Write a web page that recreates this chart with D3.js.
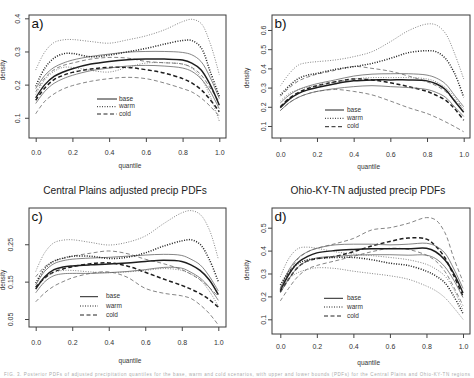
<!DOCTYPE html>
<html><head><meta charset="utf-8">
<script src="https://cdn.jsdelivr.net/npm/d3@7"></script>
<style>
body{margin:0;background:#fff;}
svg{display:block;font-family:"Liberation Sans",Arial,Helvetica,sans-serif;}
</style></head>
<body><svg id="c" width="474" height="378"></svg>
<script>
const quantiles = [0,0.05,0.1,0.15,0.2,0.3,0.4,0.5,0.6,0.7,0.8,0.85,0.9,0.95,1];
const xTicks = [0,0.2,0.4,0.6,0.8,1.0];
const titles = ["Central Plains adjusted precip PDFs","Ohio-KY-TN adjusted precip PDFs"];
const panelLabels = ["a)","b)","c)","d)"];
const legendLabels = ["base","warm","cold"];
const captionText = "FIG. 3. Posterior PDFs of adjusted precipitation quantiles for the base, warm and cold scenarios, with upper and lower bounds (PDFs) for the Central Plains and Ohio-KY-TN regions";

// panel a
const aYTicks = [0.1,0.2,0.3,0.4];
const aWarmHi = [0.244,0.299,0.327,0.335,0.336,0.330,0.325,0.335,0.347,0.365,0.390,0.397,0.385,0.325,0.230];
const aWarmMid= [0.195,0.250,0.280,0.293,0.294,0.284,0.289,0.299,0.309,0.322,0.333,0.333,0.312,0.240,0.165];
const aWarmLo = [0.170,0.215,0.240,0.252,0.252,0.243,0.238,0.252,0.265,0.266,0.262,0.250,0.220,0.165,0.090];
const aBaseHi = [0.188,0.228,0.252,0.265,0.274,0.285,0.292,0.298,0.300,0.300,0.297,0.290,0.270,0.222,0.158];
const aBaseMid= [0.160,0.200,0.225,0.238,0.248,0.262,0.270,0.275,0.277,0.277,0.274,0.265,0.245,0.200,0.138];
const aBaseLo = [0.143,0.180,0.204,0.218,0.228,0.242,0.250,0.256,0.258,0.256,0.250,0.240,0.218,0.180,0.127];
const aColdHi = [0.178,0.220,0.245,0.258,0.265,0.277,0.282,0.280,0.270,0.266,0.262,0.252,0.230,0.190,0.148];
const aColdMid= [0.153,0.190,0.215,0.228,0.237,0.247,0.252,0.252,0.245,0.235,0.218,0.205,0.185,0.155,0.118];
const aColdLo = [0.112,0.150,0.172,0.187,0.197,0.210,0.218,0.222,0.218,0.205,0.188,0.178,0.160,0.135,0.105];

// panel b
const bYTicks = [0.1,0.2,0.3,0.4,0.5,0.6];
const bWarmHi = [0.308,0.374,0.418,0.430,0.435,0.444,0.461,0.487,0.539,0.597,0.631,0.626,0.583,0.478,0.345];
const bWarmMid= [0.261,0.310,0.348,0.365,0.374,0.395,0.409,0.426,0.452,0.482,0.492,0.487,0.452,0.374,0.250];
const bWarmLo = [0.230,0.270,0.290,0.302,0.310,0.330,0.345,0.352,0.352,0.352,0.345,0.330,0.300,0.250,0.185];
const bBaseHi = [0.220,0.262,0.290,0.307,0.320,0.340,0.360,0.370,0.372,0.372,0.365,0.350,0.320,0.260,0.200];
const bBaseMid= [0.195,0.240,0.270,0.288,0.300,0.320,0.335,0.340,0.340,0.340,0.335,0.320,0.290,0.230,0.172];
const bBaseLo = [0.180,0.222,0.250,0.268,0.280,0.295,0.305,0.310,0.305,0.300,0.290,0.275,0.250,0.200,0.150];
const bColdHi = [0.255,0.300,0.335,0.355,0.370,0.390,0.410,0.400,0.385,0.360,0.330,0.310,0.280,0.235,0.190];
const bColdMid= [0.200,0.245,0.275,0.295,0.310,0.330,0.345,0.340,0.325,0.305,0.280,0.260,0.235,0.190,0.130];
const bColdLo = [0.180,0.222,0.250,0.268,0.280,0.290,0.280,0.262,0.230,0.195,0.165,0.145,0.122,0.097,0.070];

// panel c
const cYTicks = [0.05,0.15,0.25];
const cWarmHi = [0.177,0.228,0.254,0.261,0.262,0.255,0.248,0.255,0.272,0.305,0.334,0.340,0.330,0.290,0.210];
const cWarmMid= [0.146,0.185,0.205,0.213,0.218,0.218,0.212,0.215,0.227,0.245,0.259,0.262,0.250,0.210,0.150];
const cWarmLo = [0.137,0.160,0.175,0.180,0.180,0.176,0.174,0.176,0.180,0.185,0.180,0.170,0.155,0.125,0.085];
const cBaseHi = [0.141,0.178,0.198,0.206,0.210,0.213,0.215,0.218,0.221,0.223,0.220,0.210,0.195,0.165,0.125];
const cBaseMid= [0.130,0.163,0.182,0.189,0.192,0.195,0.197,0.200,0.204,0.207,0.204,0.195,0.180,0.155,0.115];
const cBaseLo = [0.120,0.150,0.166,0.171,0.172,0.172,0.174,0.177,0.182,0.188,0.186,0.175,0.160,0.135,0.100];
const cColdHi = [0.163,0.190,0.205,0.212,0.218,0.226,0.232,0.225,0.210,0.198,0.182,0.170,0.155,0.135,0.110];
const cColdMid= [0.135,0.160,0.176,0.184,0.190,0.198,0.200,0.192,0.175,0.157,0.140,0.130,0.118,0.102,0.082];
const cColdLo = [0.096,0.120,0.138,0.150,0.160,0.172,0.176,0.162,0.132,0.119,0.112,0.105,0.088,0.065,0.034];

// panel d
const dYTicks = [0.1,0.2,0.3,0.4,0.5];
const dWarmHi = [0.285,0.370,0.410,0.415,0.410,0.395,0.385,0.378,0.370,0.360,0.340,0.320,0.290,0.230,0.140];
const dWarmMid= [0.250,0.310,0.345,0.360,0.365,0.370,0.370,0.360,0.345,0.335,0.310,0.290,0.260,0.200,0.125];
const dWarmLo = [0.230,0.280,0.305,0.318,0.325,0.322,0.310,0.300,0.290,0.275,0.245,0.225,0.195,0.150,0.100];
const dBaseHi = [0.235,0.320,0.370,0.395,0.410,0.425,0.428,0.428,0.425,0.428,0.432,0.420,0.390,0.320,0.235];
const dBaseMid= [0.225,0.300,0.350,0.375,0.390,0.400,0.405,0.408,0.408,0.408,0.410,0.395,0.360,0.300,0.215];
const dBaseLo = [0.215,0.280,0.330,0.355,0.368,0.375,0.380,0.382,0.382,0.380,0.380,0.365,0.330,0.270,0.195];
const dColdHi = [0.235,0.310,0.366,0.395,0.410,0.430,0.453,0.490,0.500,0.519,0.544,0.534,0.480,0.366,0.265];
const dColdMid= [0.220,0.280,0.330,0.355,0.365,0.375,0.395,0.420,0.440,0.455,0.450,0.420,0.370,0.290,0.200];
const dColdLo = [0.180,0.240,0.290,0.320,0.335,0.355,0.375,0.395,0.410,0.405,0.380,0.355,0.310,0.240,0.160];

const panels = [
 {label:panelLabels[0], box:[29,15,226,138], x0:35.7, x1:219.3, yDom:[0.039,0.41], yTicks:aYTicks, fmt:".1f",
  ytx:18.5, ylab:[3.5,70], xtl:153.5, xlab:[130,166], leg:[97,117,119,[99,106.7,114]],
  series:{warm:[aWarmHi,aWarmMid,aWarmLo], base:[aBaseHi,aBaseMid,aBaseLo], cold:[aColdHi,aColdMid,aColdLo]}},
 {label:panelLabels[1], box:[272,15,470,138], x0:280.3, x1:463.7, yDom:[0.0375,0.678], yTicks:bYTicks, fmt:".1f",
  ytx:264.5, ylab:[247.5,78], xtl:155, xlab:[368.7,167.5], leg:[325,344,347,[110,118.3,126.7]],
  series:{warm:[bWarmHi,bWarmMid,bWarmLo], base:[bBaseHi,bBaseMid,bBaseLo], cold:[bColdHi,bColdMid,bColdLo]}},
 {label:panelLabels[2], box:[29,208,226,327], x0:35.7, x1:218.3, yDom:[0.0286,0.347], yTicks:cYTicks, fmt:".2f",
  ytx:11, ylab:[3.5,280], xtl:343.5, xlab:[130,361], leg:[80,98,106,[296.7,306,315]],
  series:{warm:[cWarmHi,cWarmMid,cWarmLo], base:[cBaseHi,cBaseMid,cBaseLo], cold:[cColdHi,cColdMid,cColdLo]}},
 {label:panelLabels[3], box:[272,208,470,334], x0:280.3, x1:463, yDom:[0.0358,0.586], yTicks:dYTicks, fmt:".1f",
  ytx:264.5, ylab:[247.5,270], xtl:347, xlab:[368.7,363.5], leg:[324,343,347,[298.3,307,316]],
  series:{warm:[dWarmHi,dWarmMid,dWarmLo], base:[dBaseHi,dBaseMid,dBaseLo], cold:[dColdHi,dColdMid,dColdLo]}}
];

const dash = {base:null, warm:"1,1.5", cold:"4,2.5"};
const svg = d3.select("#c");

panels.forEach(p=>{
  const [L,T,R,B] = p.box;
  const x = d3.scaleLinear().domain([0,1]).range([p.x0,p.x1]);
  const y = d3.scaleLinear().domain(p.yDom).range([B,T]);
  const g = svg.append("g");
  g.append("rect").attr("x",L).attr("y",T).attr("width",R-L).attr("height",B-T)
    .attr("fill","none").attr("stroke","#3a3a3a").attr("stroke-width",1);
  const xa = g.append("g").attr("transform",`translate(0,${B})`)
    .call(d3.axisBottom(x).tickValues(xTicks).tickFormat(d3.format(".1f")).tickSize(4).tickPadding(0));
  xa.select(".domain").remove();
  xa.selectAll("line").attr("stroke","#444");
  xa.selectAll("text").attr("font-size",7).attr("fill","#333").attr("y",null).attr("dy",null)
    .attr("transform",`translate(0,${p.xtl-B})`).attr("dominant-baseline","middle");
  const ya = g.append("g").attr("transform",`translate(${L},0)`)
    .call(d3.axisLeft(y).tickValues(p.yTicks).tickFormat(d3.format(p.fmt)).tickSize(4));
  ya.select(".domain").remove();
  ya.selectAll("line").attr("stroke","#444");
  ya.selectAll("text").attr("font-size",7).attr("fill","#333").attr("x",null).attr("dy",null)
    .attr("text-anchor","middle").attr("dominant-baseline","middle")
    .attr("transform",`translate(${p.ytx-L},0) rotate(-90)`);
  g.append("text").attr("transform",`translate(${p.ylab[0]},${p.ylab[1]}) rotate(-90)`)
    .attr("text-anchor","middle").attr("dominant-baseline","middle").attr("font-size",6.5).attr("fill","#333").text("density");
  g.append("text").attr("x",p.xlab[0]).attr("y",p.xlab[1]).attr("text-anchor","middle")
    .attr("dominant-baseline","middle").attr("font-size",6.5).attr("fill","#333").text("quantile");
  const line = d3.line().x((d,i)=>x(quantiles[i])).y(d=>y(d)).curve(d3.curveCatmullRom.alpha(0.5));
  ["cold","base","warm"].forEach(k=>{
    p.series[k].forEach((arr,j)=>{
      g.append("path").attr("d",line(arr)).attr("fill","none")
        .attr("stroke", j===1 ? "#1e1e1e" : "#666")
        .attr("stroke-width", j===1 ? 1.5 : 0.8)
        .attr("stroke-dasharray", dash[k]);
    });
  });
  g.append("text").attr("x",L+2.5).attr("y",T+13).attr("font-size",13.5).attr("fill","#111").text(p.label);
  const [lx0,lx1,tx,rows] = p.leg;
  ["base","warm","cold"].forEach((k,i)=>{
    g.append("line").attr("x1",lx0).attr("x2",lx1).attr("y1",rows[i]).attr("y2",rows[i])
      .attr("stroke","#222").attr("stroke-width",1).attr("stroke-dasharray",dash[k]);
    g.append("text").attr("x",tx).attr("y",rows[i]).attr("dominant-baseline","middle")
      .attr("font-size",6.5).attr("fill","#333").text(legendLabels[i]);
  });
});

svg.append("text").attr("x",125).attr("y",194).attr("text-anchor","middle").attr("font-size",10.2).attr("fill","#222").text(titles[0]);
svg.append("text").attr("x",368).attr("y",194).attr("text-anchor","middle").attr("font-size",10.2).attr("fill","#222").text(titles[1]);
svg.append("text").attr("x",4).attr("y",376).attr("font-size",4.5).attr("fill","#aaa").attr("textLength",466).text(captionText);
</script></body></html>
